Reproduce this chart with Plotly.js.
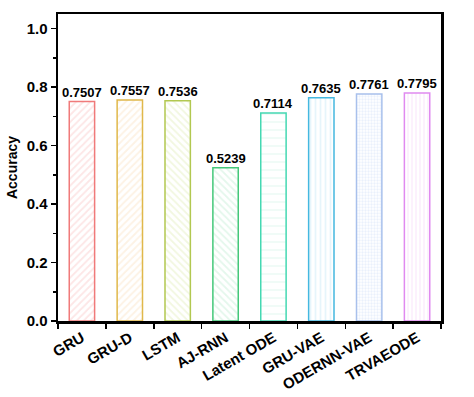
<!DOCTYPE html>
<html>
<head>
<meta charset="utf-8">
<script src="https://cdn.plot.ly/plotly-3.0.1.min.js"></script>
<style>html,body{margin:0;padding:0;background:#fff;}#chart{width:474px;height:397px;}</style>
</head>
<body>
<div id="chart"></div>
<script>
const categories = ["GRU", "GRU-D", "LSTM", "AJ-RNN", "Latent ODE", "GRU-VAE", "ODERNN-VAE", "TRVAEODE"];
const accuracy = [0.7507, 0.7557, 0.7536, 0.5239, 0.7114, 0.7635, 0.7761, 0.7795];
const labels = ["0.7507", "0.7557", "0.7536", "0.5239", "0.7114", "0.7635", "0.7761", "0.7795"];
const borderColors = ["#f07a7a", "#e0b84a", "#b2c850", "#44c87a", "#44d8b2", "#44b8e0", "#a8c0ec", "#e08af0"];
const patternColors = ["#f08080", "#ebbc78", "#b8cc5e", "#54c886", "#56d8b6", "#62c0ea", "#92ace2", "#e290f2"];
const bgColors = ["#fde6e6", "#fdf2e4", "#f2f7e0", "#e4f7ec", "#edfaf5", "#e6f5fb", "#eaf0fc", "#fbebfd"];
const shapes = ["/", "/", "\\", "\\", "-", "|", ".", "|"];

const trace = {
  type: "bar",
  x: categories,
  y: accuracy,
  width: 0.53,
  marker: {
    color: bgColors,
    line: {color: borderColors, width: 1.5},
    pattern: {
      shape: shapes,
      fgcolor: patternColors,
      bgcolor: bgColors,
      size: [5, 5, 5, 5, 8, 5, 3, 4],
      solidity: [0.35, 0.35, 0.35, 0.35, 0.2, 0.35, 0.45, 0.35],
      fillmode: "replace"
    }
  },
  hoverinfo: "none"
};

const annotations = categories.map((c, i) => ({
  x: i,
  y: accuracy[i],
  xref: "x",
  yref: "y",
  text: labels[i],
  showarrow: false,
  xanchor: "center",
  yanchor: "bottom",
  font: {family: "Liberation Sans, Arial, sans-serif", size: 13, color: "#000", weight: "bold"}
}));

const font = {family: "Liberation Sans, Arial, sans-serif", size: 15, color: "#000", weight: "bold"};

const layout = {
  width: 474,
  height: 397,
  margin: {l: 58, r: 33, t: 14, b: 76},
  paper_bgcolor: "#fff",
  plot_bgcolor: "#fff",
  showlegend: false,
  font: font,
  annotations: annotations,
  xaxis: {
    type: "category",
    tickson: "boundaries",
    ticks: "outside",
    ticklen: 5,
    tickwidth: 1.5,
    tickcolor: "#000",
    tickangle: -30,
    tickfont: font,
    showline: true,
    linecolor: "#000",
    linewidth: 2.5,
    mirror: true,
    showgrid: false,
    zeroline: false
  },
  yaxis: {
    range: [0, 1.05],
    tickvals: [0, 0.2, 0.4, 0.6, 0.8, 1.0],
    ticktext: ["0.0", "0.2", "0.4", "0.6", "0.8", "1.0"],
    ticks: "outside",
    ticklen: 5,
    tickwidth: 1.5,
    tickcolor: "#000",
    tickfont: font,
    minor: {dtick: 0.1, ticks: "outside", ticklen: 3, tickwidth: 1.5, tickcolor: "#000", showgrid: false},
    showline: true,
    linecolor: "#000",
    linewidth: 2.5,
    mirror: true,
    showgrid: false,
    zeroline: false,
    title: {text: "Accuracy", font: {family: "Liberation Sans, Arial, sans-serif", size: 14, color: "#000", weight: "bold"}, standoff: 6}
  }
};

Plotly.newPlot("chart", [trace], layout, {displayModeBar: false, staticPlot: true});
</script>
</body>
</html>
